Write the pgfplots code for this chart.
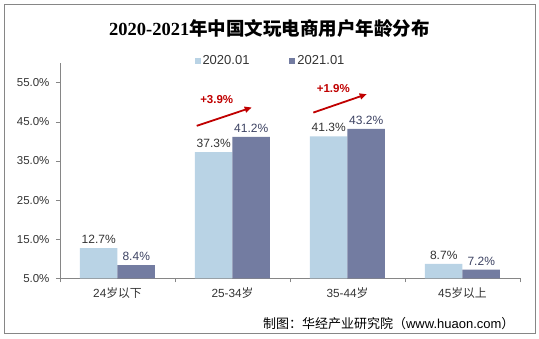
\documentclass[border=0pt]{standalone}
\usepackage{pgfplots}
\pgfplotsset{compat=1.18}
\usetikzlibrary{arrows.meta}
\usepackage{fontspec}
\setmainfont{Liberation Sans}
\newfontfamily\cjk{Noto Sans CJK SC}
\newfontfamily\titleserif{Liberation Serif}
\definecolor{lightbar}{HTML}{B9D3E5}
\definecolor{darkbar}{HTML}{737CA1}
\definecolor{axisgray}{HTML}{868686}
\definecolor{txt}{HTML}{333333}
\definecolor{txtdark}{HTML}{3C4262}
\definecolor{arrowred}{HTML}{C00000}
\begin{document}
\begin{tikzpicture}[x=1pt,y=1pt]
\useasboundingbox (-60,-60.7) rectangle (479,278.3);
\draw[axisgray, line width=0.8pt] (-56,-54.7) rectangle (475,274.3);
\node[font=\fontsize{18.5}{20}\selectfont\bfseries] at (209.5,250.3) {\titleserif 2020-2021\cjk 年中国文玩电商用户年龄分布};
\node[anchor=east, font=\fontsize{13}{15}\selectfont, text=black] at (458,-45.3) {\cjk 制图：华经产业研究院（\rmfamily www.huaon.com\cjk ）};
\begin{axis}[
  at={(0,0)}, anchor=south west, scale only axis,
  width=460pt, height=215pt,
  clip=false,
  ybar=0pt, bar width=37.5pt,
  xmin=-0.5, xmax=3.5, ymin=5, ymax=60,
  axis x line*=bottom, axis y line*=left,
  axis line style={axisgray, line width=0.8pt},
  tick style={axisgray, line width=0.8pt},
  tick align=outside, major tick length=4pt,
  ytick={5,15,25,35,45,55},
  yticklabel={\pgfmathprintnumber[fixed,fixed zerofill,precision=1]{\tick}\%},
  /pgf/number format/assume math mode=true,
  yticklabel style={font=\fontsize{11.5}{13}\selectfont, text=txt, xshift=-3pt},
  xtick={-0.5,0.5,1.5,2.5,3.5},
  xticklabel=\empty,
  extra x ticks={0,1,2,3},
  extra x tick labels={24{\cjk 岁以下},25-34{\cjk 岁},35-44{\cjk 岁},45{\cjk 岁以上}},
  extra x tick style={major tick length=0pt, xticklabel style={font=\fontsize{11.8}{13}\selectfont, text=txt, yshift=-6pt}},
  legend style={at={(0.4576,1.0107)}, anchor=center, draw=none, fill=none,
    font=\fontsize{13}{14}\selectfont, text=txt, legend columns=2,
    /tikz/every even column/.append style={column sep=38pt}},
  legend image code/.code={\fill[#1] (0pt,-3pt) rectangle (6pt,3pt);},
  nodes near coords={\pgfmathprintnumber[fixed,fixed zerofill,precision=1]{\pgfplotspointmeta}\%},
  nodes near coords style={font=\fontsize{12}{13}\selectfont, anchor=base, yshift=4.5pt},
]
\addplot[fill=lightbar, draw=none, nodes near coords style={text=txt}] coordinates {(0,12.7) (1,37.3) (2,41.3) (3,8.7)};
\addlegendentry{2020.01}
\addplot[fill=darkbar, draw=none, nodes near coords style={text=txtdark}] coordinates {(0,8.4) (1,41.2) (2,43.2) (3,7.2)};
\addlegendentry{2021.01}
\draw[arrowred, line width=1.8pt, -{Triangle[length=7pt,width=6pt]}] (axis cs:0.689,44.0) -- (axis cs:1.167,48.7);
\draw[arrowred, line width=1.8pt, -{Triangle[length=7pt,width=6pt]}] (axis cs:1.703,47.4) -- (axis cs:2.167,52.1);
\node[text=arrowred, font=\fontsize{11.5}{13}\selectfont\bfseries] at (axis cs:0.863,50.6) {+3.9\%};
\node[text=arrowred, font=\fontsize{11.5}{13}\selectfont\bfseries] at (axis cs:1.877,53.6) {+1.9\%};
\end{axis}
\end{tikzpicture}
\end{document}
